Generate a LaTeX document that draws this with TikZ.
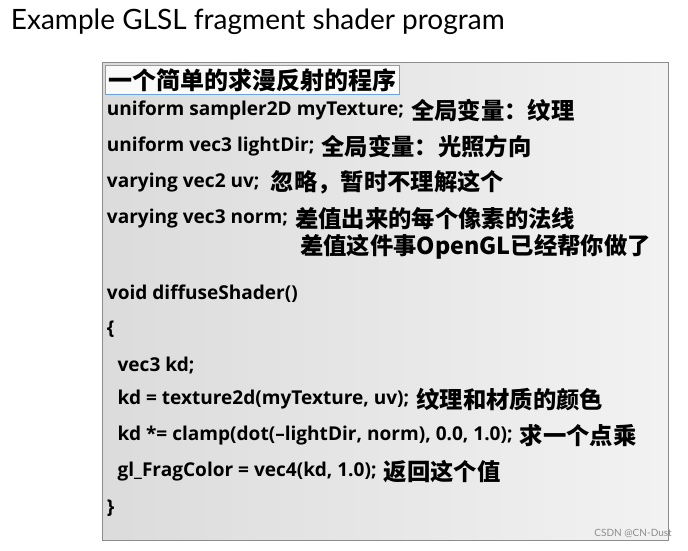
\documentclass[tikz,border=0pt]{standalone}
\usepackage{fontspec}
\setmainfont{Lato}
\newfontfamily\cjk{Noto Sans CJK SC}
\newfontfamily\codefont{Open Sans}
\begin{document}
\begin{tikzpicture}[x=1pt,y=-1pt,
  code/.style={anchor=west,inner sep=0pt,font=\fontsize{14.3}{15}\selectfont\codefont\bfseries},
  zh/.style={anchor=west,inner sep=0pt,font=\fontsize{17.5}{19}\selectfont\cjk\bfseries}]
\useasboundingbox (0,0) rectangle (516,413);
\fill[white] (0,0) rectangle (516,413);
\shade[left color=black!14,right color=black!5,draw=black!45] (76.5,46.5) rectangle (501,405);
\node[anchor=west,inner sep=0pt,font=\fontsize{21}{24}\selectfont] (title) at (8,16) {Example GLSL fragment shader program};
\node[anchor=west,draw=cyan!60!blue!60,fill=white!60!black!5,inner sep=2pt,font=\fontsize{18}{19}\selectfont\cjk\bfseries] (hd) at (79,60) {一个简单的求漫反射的程序};
\node[code] (l1) at (80,83) {uniform sampler2D myTexture;};
\node[zh] (c1) at ([xshift=5pt]l1.east) {全局变量：纹理};
\node[code] (l2) at (80,110) {uniform vec3 lightDir;};
\node[zh] (c2) at ([xshift=5pt]l2.east) {全局变量：光照方向};
\node[code] (l3) at (80,137) {varying vec2 uv;};
\node[zh] (c3) at ([xshift=8pt]l3.east) {忽略，暂时不理解这个};
\node[code] (l4) at (80,164) {varying vec3 norm;};
\node[zh] (c4) at ([xshift=5pt]l4.east) {差值出来的每个像素的法线};
\node[zh] (c5) at (225,185) {差值这件事OpenGL已经帮你做了};
\node[code] (l5) at (80,220) {void diffuseShader()};
\node[code] (l6) at (80,247) {\{};
\node[code] (l7) at (88,274) {vec3 kd;};
\node[code] (l8) at (88,300) {kd = texture2d(myTexture, uv);};
\node[zh] (c8) at ([xshift=5pt]l8.east) {纹理和材质的颜色};
\node[code] (l9) at (88,327) {kd *= clamp(dot(–lightDir, norm), 0.0, 1.0);};
\node[zh] (c9) at ([xshift=5pt]l9.east) {求一个点乘};
\node[code] (l10) at (88,354) {gl\_FragColor = vec4(kd, 1.0);};
\node[zh] (c10) at ([xshift=5pt]l10.east) {返回这个值};
\node[code] (l11) at (80,381) {\}};
\node[anchor=east,inner sep=0pt,text=black!45,font=\fontsize{7.5}{9}\selectfont] (wm) at (504,400) {CSDN @CN-Dust};
\end{tikzpicture}
\end{document}
